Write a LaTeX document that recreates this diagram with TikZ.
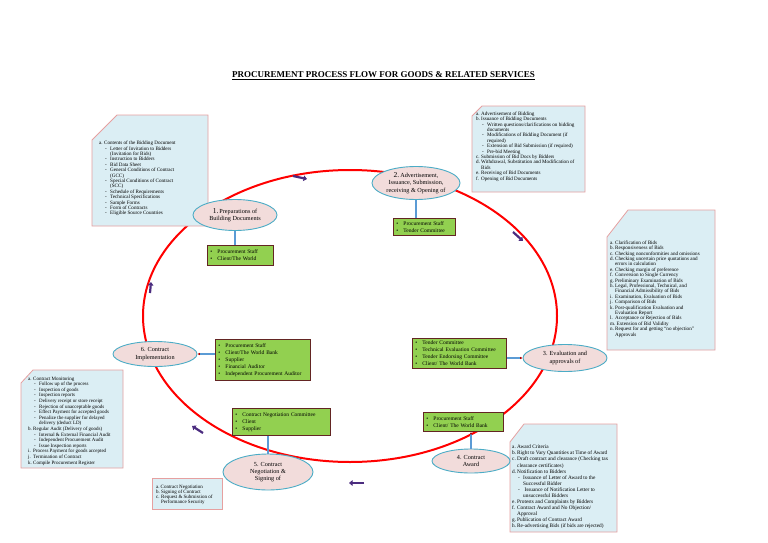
\documentclass[tikz,border=0pt]{standalone}
\usepackage{fontspec}
\setmainfont{Liberation Serif}
\usetikzlibrary{shapes.geometric,arrows.meta}
\definecolor{ringred}{HTML}{FF0000}
\definecolor{stagefill}{HTML}{F2DCDB}
\definecolor{stageline}{HTML}{4BACC6}
\definecolor{greenfill}{HTML}{92D050}
\definecolor{greenline}{HTML}{632523}
\definecolor{notefill}{HTML}{DBEEF4}
\definecolor{noteline}{HTML}{E6A0A0}
\definecolor{linkblue}{HTML}{5B9BD5}
\definecolor{flowpurple}{HTML}{4B2C7F}
\newlength\Llab \setlength\Llab{5pt}
\newlength\Lsubind \setlength\Lsubind{6pt}
\newlength\Lsubgap \setlength\Lsubgap{5pt}
\def\Lmark{-}
\newcommand\Litem[2]{\makebox[\Llab][l]{#1}#2}
\newcommand\Lsub[1]{\hspace*{\Lsubind}\makebox[\Lsubgap][l]{\Lmark}#1}
\newcommand\Lcont[1]{\hspace*{\Lsubind}\hspace*{\Lsubgap}#1}
\newcommand\Lwrap[1]{\hspace*{\Llab}#1}
\newcommand\gb{\makebox[7pt][l]{\textbullet}}
\tikzset{
  ring/.style={draw=ringred, line width=2pt},
  stage/.style={ellipse, draw=stageline, fill=stagefill, line width=0.9pt, inner sep=0pt, align=center, font=\fontsize{6.2}{7.3}\selectfont},
  people/.style={draw=greenline, fill=greenfill, line width=0.9pt, anchor=north west, inner xsep=3pt, inner ysep=0pt, align=left, font=\fontsize{5.5}{7.1}\selectfont},
  note/.style={draw=noteline, fill=notefill, line width=0.8pt},
  notetext/.style={anchor=north west, inner sep=0pt, align=left, font=\fontsize{5.1}{5.4}\selectfont},
  link/.style={draw=linkblue, line width=1.5pt},
  linkarrow/.style={link, -{Latex[length=2.5pt,width=2.5pt,color=red!70!black]}},
  flow/.style={draw=flowpurple, line width=2.2pt, -{Triangle[length=3.5pt,width=5.5pt]}}
}
\begin{document}
\begin{tikzpicture}[x=1pt,y=-1pt]
\useasboundingbox (0,0) rectangle (768,543);
\fill[white] (0,0) rectangle (768,543);

% title
\node[font=\fontsize{9}{10}\selectfont\bfseries, inner sep=0pt] (title) at (383.5,76)
  {\underline{PROCUREMENT PROCESS FLOW FOR GOODS \& RELATED SERVICES}};

% big cycle
\draw[ring] (350,316) ellipse [x radius=207pt, y radius=146pt];

% callouts
\draw[note] (92,140) -- (117,115) -- (208,115) -- (208,226) -- (92,226) -- cycle;
\node[notetext] (c1) at (99,141) {\setlength\Llab{5pt}\setlength\Lsubind{6.5pt}\setlength\Lsubgap{5.8pt}%
\Litem{a.}{Contents of the Bidding Document}\\
\Lsub{Letter of Invitation to Bidders}\\
\Lcont{(Invitation for Bids)}\\
\Lsub{Instruction to Bidders}\\
\Lsub{Bid Data Sheet}\\
\Lsub{General Conditions of Contract}\\
\Lcont{(GCC)}\\
\Lsub{Special Conditions of Contract}\\
\Lcont{(SCC)}\\
\Lsub{Schedule of Requirements}\\
\Lsub{Technical Specifications}\\
\Lsub{Sample Forms}\\
\Lsub{Form of Contracts}\\
\Lsub{Eligible Source Countries}};

\draw[note] (472,116) -- (482,106) -- (585,106) -- (585,192) -- (472,192) -- cycle;
\node[notetext] (c2) at (476,111.5) {\setlength\Llab{5pt}\setlength\Lsubind{5pt}\setlength\Lsubgap{4.5pt}%
\Litem{a.}{Advertisement of Bidding}\\
\Litem{b.}{Issuance of Bidding Documents}\\
\Lsub{Written questions/clarifications on bidding}\\
\Lcont{documents}\\
\Lsub{Modifications of Bidding Document (if}\\
\Lcont{required)}\\
\Lsub{Extension of Bid Submission (if required)}\\
\Lsub{Pre-bid Meeting}\\
\Litem{c.}{Submission of Bid Docs by Bidders}\\
\Litem{d.}{Withdrawal, Substitution and Modification of}\\
\Lwrap{Bids}\\
\Litem{e.}{Receiving of Bid Documents}\\
\Litem{f.}{Opening of Bid Documents}};

\draw[note] (607,237) -- (628,210) -- (715,210) -- (715,350) -- (607,350) -- cycle;
\node[notetext] (c3) at (610,240.5) {\setlength\Llab{5pt}%
\Litem{a.}{Clarification of Bids}\\
\Litem{b.}{Responsiveness of Bids}\\
\Litem{c.}{Checking nonconformities and omissions}\\
\Litem{d.}{Checking uncertain price quotations and}\\
\Lwrap{errors in calculation}\\
\Litem{e.}{Checking margin of preference}\\
\Litem{f.}{Conversion to Single Currency}\\
\Litem{g.}{Preliminary Examination of Bids}\\
\Litem{h.}{Legal, Professional, Technical, and}\\
\Lwrap{Financial Admissibility of Bids}\\
\Litem{i.}{Examination, Evaluation of Bids}\\
\Litem{j.}{Comparison of Bids}\\
\Litem{k.}{Post-qualification Evaluation and}\\
\Lwrap{Evaluation Report}\\
\Litem{l.}{Acceptance or Rejection of Bids}\\
m.\ Extension of Bid Validity\\
\Litem{n.}{Request for and getting ``no objection''}\\
\Lwrap{Approvals}};

\draw[note] (21,383) -- (33,370) -- (123,370) -- (123,468) -- (21,468) -- cycle;
\node[notetext, font=\fontsize{5.0}{5.6}\selectfont] (c4) at (28,376.5) {\setlength\Llab{5pt}\setlength\Lsubind{5pt}\setlength\Lsubgap{3.6pt}\def\Lmark{--}%
\Litem{a.}{Contract Monitoring}\\
\Lsub{Follow up of the process}\\
\Lsub{Inspection of goods}\\
\Lsub{Inspection reports}\\
\Lsub{Delivery receipt or store receipt}\\
\Lsub{Rejection of unacceptable goods}\\
\Lsub{Effect Payment for accepted goods}\\
\Lsub{Penalize the supplier for delayed}\\
\Lcont{delivery (deduct LD)}\\
\Litem{b.}{Regular Audit (Delivery of goods)}\\
\Lsub{Internal \& External Financial Audit}\\
\Lsub{Independent Procurement Audit}\\
\Lsub{Issue Inspection reports}\\
\Litem{i.}{Process Payment for goods accepted}\\
\Litem{j.}{Termination of Contract}\\
\Litem{k.}{Compile Procurement Register}};

\draw[note] (510,442) -- (524,424) -- (617,424) -- (617,532) -- (510,532) -- cycle;
\node[notetext, font=\fontsize{5.3}{6.05}\selectfont] (c5) at (512,445) {\setlength\Llab{5pt}\setlength\Lsubind{2.5pt}\setlength\Lsubgap{8.5pt}\def\Lmark{--}%
\Litem{a.}{Award Criteria}\\
\Litem{b.}{Right to Vary Quantities at Time of Award}\\
\Litem{c.}{Draft contract and clearance (Checking tax}\\
\Lwrap{clearance certificates)}\\
\Litem{d.}{Notification to Bidders}\\
\Lsub{Issuance of Letter of Award to the}\\
\Lcont{Successful Bidder}\\
\Lsub{\ Issuance of Notification Letter to}\\
\Lcont{unsuccessful Bidders}\\
\Litem{e.}{Protests and Complaints by Bidders}\\
\Litem{f.}{Contract Award and No Objection/}\\
\Lwrap{Approval}\\
\Litem{g.}{Publication of Contract Award}\\
\Litem{h.}{Re-advertising Bids (if bids are rejected)}};

\draw[note] (152,478) -- (222,478) -- (222,509) -- (152,509) -- cycle;
\node[notetext, font=\fontsize{5.0}{5.2}\selectfont] (c6) at (156,484.5) {\setlength\Llab{4.5pt}%
\Litem{a.}{Contract Negotiation}\\
\Litem{b.}{Signing of Contract}\\
\Litem{c.}{Request \& Submission of}\\
\Lwrap{Performance Security}};

% stages
\node[stage, minimum width=84pt, minimum height=31pt] (s1) at (235,215) {{\fontsize{7.5}{7.3}\selectfont 1.}\,Preparations of\\Building Documents};
\node[stage, minimum width=88pt, minimum height=33pt] (s2) at (416,183) {{\fontsize{7.5}{7.3}\selectfont 2.}\,Advertisement,\\Issuance, Submission,\\receiving \& Opening of};
\node[stage, minimum width=84pt, minimum height=27pt] (s3) at (565,358) {3. Evaluation and\\approvals of};
\node[stage, minimum width=78pt, minimum height=24pt] (s4) at (471,461) {4. Contract\\Award};
\node[stage, minimum width=90pt, minimum height=36pt] (s5) at (268,472) {5. Contract\\Negotiation \&\\Signing of};
\node[stage, minimum width=84pt, minimum height=25pt] (s6) at (155,354) {6. Contract\\Implementation};

% people boxes
\node[people, text width=60pt, minimum height=20pt] (g1) at (207,245) {\gb Procurement Staff\\\gb Client/The World};
\node[people, text width=56pt, minimum height=17pt] (g2) at (393,218) {\gb Procurement Staff\\\gb Tender Committee};
\node[people, text width=89pt, minimum height=41pt] (g6) at (215,339) {\gb Procurement Staff\\\gb Client/The World Bank\\\gb Supplier\\\gb Financial Auditor\\\gb Independent Procurement Auditor};
\node[people, text width=88pt, minimum height=30pt] (g3) at (412,338) {\gb Tender Committee\\\gb Technical Evaluation Committee\\\gb Tender Endorsing Committee\\\gb Client/ The World Bank};
\node[people, text width=92pt, minimum height=27pt] (g5) at (232,408) {\gb Contract Negotiation Committee\\\gb Client\\\gb Supplier};
\node[people, text width=74pt, minimum height=19pt] (g4) at (423,412) {\gb Procurement Staff\\\gb Client/ The World Bank};

% links
\draw[link] (s1.south) -- (s1.south |- g1.north);
\draw[link] (s2.south) -- (s2.south |- g2.north);
\draw[linkarrow] (g3.east |- s3.west) -- (s3.west);
\draw[linkarrow] (g6.west |- s6.east) -- (s6.east);
\draw[link] (s5.north |- g5.south) -- (s5.north);
\draw[linkarrow] (s4.north) -- (s4.north |- g4.south);

% flow arrows
\draw[flow] (293,176) -- (307,179);
\draw[flow] (513,232) -- (523,241);
\draw[flow] (150,293) -- (151,282);
\draw[flow] (203,433) -- (192,426);
\draw[flow] (364,483) -- (349,483);
\end{tikzpicture}
\end{document}
